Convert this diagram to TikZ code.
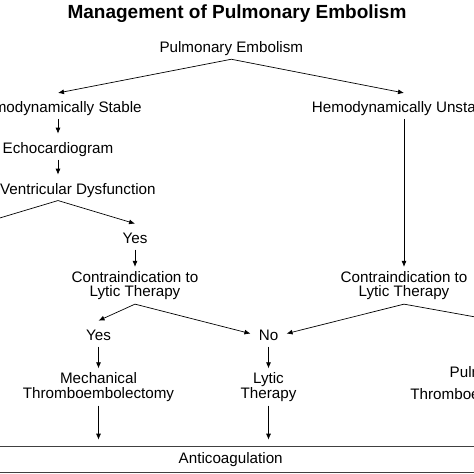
\documentclass[tikz,border=0pt]{standalone}
\usepackage{fontspec}
\setmainfont{Liberation Sans}
\usetikzlibrary{arrows.meta}
\begin{document}
\begin{tikzpicture}[x=1pt,y=-1pt,line width=0.7pt,
		font=\fontsize{15.2pt}{14.4pt}\selectfont,
		lbl/.style={inner xsep=8pt,inner ysep=3pt,text height=16pt,text depth=3.2pt,anchor=base},
		blk/.style={inner xsep=8pt,inner ysep=4pt,align=center},
		arr/.style={-{Latex[length=6pt,width=5pt]}}]
		\useasboundingbox (0,0) rectangle (474,474);
		\clip (0,0) rectangle (474,474);
		\node[anchor=base,font=\fontsize{19pt}{22pt}\selectfont\bfseries] (title) at (237,18.7) {Management of Pulmonary Embolism};
		\node[lbl] (pe) at (231.3,52.7) {Pulmonary Embolism};
		\node[lbl] (stable) at (58,112.3) {Hemodynamically Stable};
		\node[lbl] (unstable) at (404,112.3) {Hemodynamically Unstable};
		\node[lbl] (echo) at (58,153) {Echocardiogram};
		\node[lbl] (rvd) at (58,194) {Right Ventricular Dysfunction};
		\node[lbl] (yes1) at (135,243) {Yes};
		\node[blk] (ci1) at (135,285.5) {Contraindication to\\Lytic Therapy};
		\node[blk] (ci2) at (404,285.5) {Contraindication to\\Lytic Therapy};
		\node[lbl] (yes2) at (98.5,340) {Yes};
		\node[lbl] (no) at (268.5,340) {No};
		\node[blk] (mech) at (98.5,387) {Mechanical\\Thromboembolectomy};
		\node[blk] (lytic) at (268.5,387) {Lytic\\Therapy};
		\node[blk] (pulm) at (486,385) {Pulmonary\\[7.5pt]Thromboembolectomy};
		\node[draw=black!75,minimum width=600pt,minimum height=26.5pt,inner sep=0pt] (anticoag) at (230.7,459.25) {Anticoagulation};
		% branches running out of the picture
		\coordinate (rvdno) at (-17,223);
		\coordinate (ci2yes) at (520,325);
		\draw[arr] (pe.south) -- (stable.north);
		\draw[arr] (pe.south) -- (unstable.north);
		\draw[arr] (stable.south) -- (echo.north);
		\draw[arr] (echo.south) -- (rvd.north);
		\draw[arr] (rvd.south) -- (rvdno);
		\draw[arr] (rvd.south) -- (yes1.north);
		\draw[arr] (yes1.south) -- (ci1.north);
		\draw[arr] (unstable.south) -- (ci2.north);
		\draw[arr] (ci1.south) -- (yes2.north);
		\draw[arr] (ci1.south) -- (no.west);
		\draw[arr] (ci2.south) -- (no.east);
		\draw[arr] (ci2.south) -- (ci2yes);
		\draw[arr] (yes2.south) -- (mech.north);
		\draw[arr] (no.south) -- (lytic.north);
		\draw[arr,shorten >=6pt] (mech.south) -- (mech.south |- anticoag.north);
		\draw[arr,shorten >=6pt] (lytic.south) -- (lytic.south |- anticoag.north);
	\end{tikzpicture}
\end{document}
